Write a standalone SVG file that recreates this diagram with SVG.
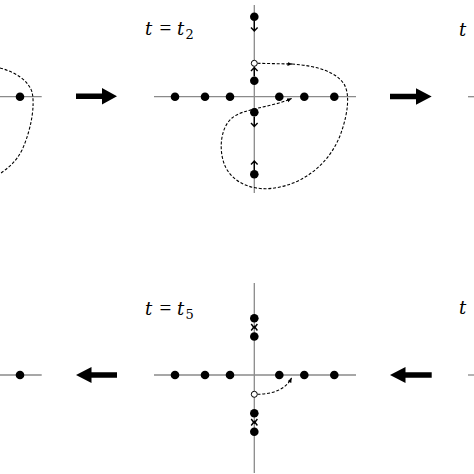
<svg xmlns="http://www.w3.org/2000/svg" width="474" height="474" viewBox="0 0 474 474">
<defs>
<style>
.ax{stroke:#8a8a8a;stroke-width:1.3;fill:none}
.dot{fill:#000}
.open{fill:#fff;stroke:#000;stroke-width:1}
.dash{fill:none;stroke:#000;stroke-width:1.1;stroke-dasharray:3 1.8}
.sm{fill:none;stroke:#000;stroke-width:1.4}
.big{fill:#000}
.tv{font-family:"DejaVu Serif","Liberation Serif",serif;font-style:italic;font-size:18px;fill:#000}
.eq{font-family:"Liberation Serif","DejaVu Serif",serif;font-size:21px;fill:#000}
.sub{font-family:"DejaVu Serif","Liberation Serif",serif;font-size:13px;fill:#000}
</style>
<marker id="ah" viewBox="0 0 10 10" refX="9" refY="5" markerWidth="5" markerHeight="5" orient="auto" markerUnits="userSpaceOnUse">
<path d="M0,1 L10,5 L0,9 Z" fill="#000"/>
</marker>
</defs>
<rect width="474" height="474" fill="#fff"/>

<!-- top-left partial panel -->
<g id="panel-t1">
<line class="ax" x1="0" y1="96.7" x2="41.7" y2="96.7"/>
<path class="dash" d="M0,68 C15,72 28,80 32,92 C35,104 32,128 22,150 C16,162 8,168 1,173"/>
<circle class="dot" cx="20" cy="96.7" r="4.3"/>
</g>

<!-- top-middle panel t = t2 -->
<g id="panel-t2">
<line class="ax" x1="154" y1="96.7" x2="356" y2="96.7"/>
<line class="ax" x1="254.3" y1="5" x2="254.3" y2="193"/>
<g id="t2-dots">
<circle class="dot" cx="175" cy="96.7" r="4.3"/>
<circle class="dot" cx="205" cy="96.7" r="4.3"/>
<circle class="dot" cx="230" cy="96.7" r="4.3"/>
<circle class="dot" cx="279.3" cy="96.7" r="4.3"/>
<circle class="dot" cx="304.3" cy="96.7" r="4.3"/>
<circle class="dot" cx="334.3" cy="96.7" r="4.3"/>
<circle class="dot" cx="254.3" cy="16.7" r="4.3"/>
<circle class="dot" cx="254.3" cy="80.7" r="4.3"/>
<circle class="dot" cx="254.3" cy="112.3" r="4.3"/>
<circle class="dot" cx="254.3" cy="174.3" r="4.3"/>
</g>
<g id="t2-small-arrows">
<path class="sm" d="M254.3,21 V31 M251,27.5 L254.3,31 L257.6,27.5"/>
<path class="sm" d="M254.3,76 V67.5 M251,71 L254.3,67.5 L257.6,71"/>
<path class="sm" d="M254.3,117 V126.5 M251,123 L254.3,126.5 L257.6,123"/>
<path class="sm" d="M254.3,170 V161 M251,164.5 L254.3,161 L257.6,164.5"/>
</g>
<g id="t2-connectors">
<path class="dash" d="M257.5,63.3 L292,64" marker-end="url(#ah)"/>
<path class="dash" d="M292,64 C318,66 336,72 344,84 C350,94 348,112 342,130 C334,156 312,180 280,187 C258,192 236,186 226,168 C218,152 220,128 232,118 C244,108 270,108 291.5,98.5" marker-end="url(#ah)"/>
</g>
<circle class="open" cx="254.3" cy="63.3" r="3"/>
<text class="tv" x="145" y="35">t</text>
<text class="eq" x="159.5" y="35">=</text>
<text class="tv" x="177" y="35">t</text>
<text class="sub" x="185.5" y="39">2</text>
</g>

<!-- top-right partial panel -->
<g id="panel-t3">
<line class="ax" x1="468" y1="96.7" x2="474" y2="96.7"/>
<text class="tv" x="459" y="36">t</text>
</g>

<!-- bottom-left partial panel -->
<g id="panel-t6">
<line class="ax" x1="0" y1="375" x2="41.7" y2="375"/>
<circle class="dot" cx="20" cy="375" r="4.3"/>
</g>

<!-- bottom-middle panel t = t5 -->
<g id="panel-t5">
<line class="ax" x1="154" y1="375" x2="356" y2="375"/>
<line class="ax" x1="254.3" y1="283" x2="254.3" y2="473"/>
<g id="t5-dots">
<circle class="dot" cx="175" cy="375" r="4.3"/>
<circle class="dot" cx="205" cy="375" r="4.3"/>
<circle class="dot" cx="230" cy="375" r="4.3"/>
<circle class="dot" cx="279.3" cy="375" r="4.3"/>
<circle class="dot" cx="304.3" cy="375" r="4.3"/>
<circle class="dot" cx="334.3" cy="375" r="4.3"/>
<circle class="dot" cx="254.3" cy="318.3" r="4.3"/>
<circle class="dot" cx="254.3" cy="336.5" r="4.3"/>
<circle class="dot" cx="254.3" cy="413.3" r="4.3"/>
<circle class="dot" cx="254.3" cy="431.7" r="4.3"/>
</g>
<g id="t5-small-arrows">
<path class="sm" d="M251.2,324 L254.3,328 L257.4,324"/>
<path class="sm" d="M251.2,330.5 L254.3,326.5 L257.4,330.5"/>
<path class="sm" d="M251.2,419 L254.3,423 L257.4,419"/>
<path class="sm" d="M251.2,425.5 L254.3,421.5 L257.4,425.5"/>
</g>
<g id="t5-connectors">
<path class="dash" d="M257.5,394.3 C270,394 285,391 291.5,378" marker-end="url(#ah)"/>
</g>
<circle class="open" cx="254.3" cy="394.3" r="3"/>
<text class="tv" x="145" y="315">t</text>
<text class="eq" x="159.5" y="315">=</text>
<text class="tv" x="177" y="315">t</text>
<text class="sub" x="185.5" y="319">5</text>
</g>

<!-- bottom-right partial panel -->
<g id="panel-t4">
<line class="ax" x1="468" y1="375" x2="474" y2="375"/>
<text class="tv" x="459" y="314">t</text>
</g>

<!-- big transition arrows -->
<g id="transitions">
<polygon class="big" points="76,93.5 102,93.5 102,88 117,96.3 102,104.5 102,99 76,99"/>
<polygon class="big" points="390,93.8 416,93.8 416,88.3 431.7,96.6 416,104.8 416,99.3 390,99.3"/>
<polygon class="big" points="76,375 91.5,367 91.5,372.3 117,372.3 117,377.7 91.5,377.7 91.5,383"/>
<polygon class="big" points="390,375 405.5,367 405.5,372.3 431.7,372.3 431.7,377.7 405.5,377.7 405.5,383"/>
</g>
</svg>
